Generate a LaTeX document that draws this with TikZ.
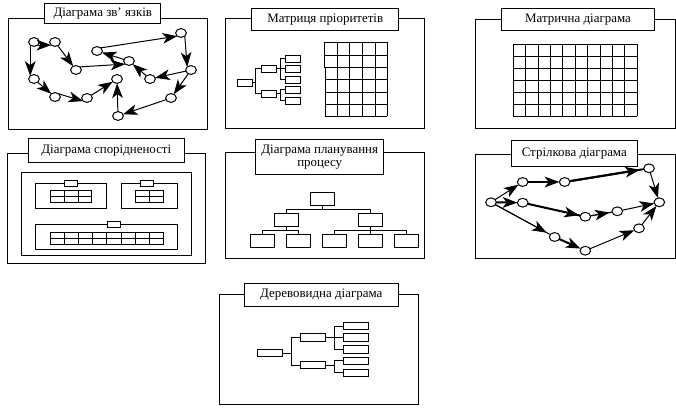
\documentclass[tikz,border=0pt]{standalone}
\usepackage{fontspec}
\setmainfont{Liberation Serif}
\usetikzlibrary{shapes.geometric,arrows.meta}

\begin{document}
\begin{tikzpicture}[
    x=0.75pt, y=-0.75pt,
    font=\fontsize{9.7}{10}\selectfont,
    line width=0.75pt,
    % Node styles:
    panel/.style={draw},
    title/.style={rectangle, draw, fill=white, align=center, inner sep=0pt, outer sep=0pt},
    circ/.style={ellipse, draw, fill=white, inner sep=0pt, outer sep=0pt,
                 minimum width=8pt, minimum height=6.6pt},
    tag/.style={rectangle, draw, fill=white, inner sep=0pt, outer sep=0pt,
                minimum width=10pt, minimum height=4.8pt},
    smallbox/.style={rectangle, draw, inner sep=0pt, outer sep=0pt,
                     minimum width=11.5pt, minimum height=5.5pt},
    widebox/.style={rectangle, draw, inner sep=0pt, outer sep=0pt,
                    minimum width=19pt, minimum height=5.6pt},
    planbox/.style={rectangle, draw, inner sep=0pt, outer sep=0pt,
                    minimum width=18pt, minimum height=10pt},
    % Arrow styles:
    line/.style={-{Stealth[length=11pt,width=8pt,inset=3pt]}},
    heavy/.style={line, line width=1.5pt},
]
\useasboundingbox (0,0) rectangle (676,410);

% --- PANELS ---
\draw[panel] (8,19) rectangle (207,130);
\draw[panel] (225.7,18.3) rectangle (424.3,128.3);
\draw[panel] (475.7,20) rectangle (675,128.3);
\draw[panel] (7.3,153.3) rectangle (205.7,264);
\draw[panel] (225.7,152.3) rectangle (424.3,258.3);
\draw[panel] (475.7,155) rectangle (675,258.3);
\draw[panel] (219.3,294.3) rectangle (418.7,404.3);

% --- TITLES ---
\node[title, minimum width=86.8pt, minimum height=14.3pt] (titleLinks) at (102.8,13.5) {Діаграма зв’ язків};
\node[title, minimum width=110.5pt, minimum height=16.8pt] (titlePriority) at (325.3,19.5) {Матриця пріоритетів};
\node[title, minimum width=114.5pt, minimum height=16.8pt] (titleMatrix) at (578,19.5) {Матрична діаграма};
\node[title, minimum width=117pt, minimum height=18pt] (titleAffinity) at (106.3,150.3) {Діаграма спорідненості};
\node[title, minimum width=96pt, minimum height=26.3pt] (titlePlan) at (319.7,156.8) {Діаграма планування\\процесу};
\node[title, minimum width=94.5pt, minimum height=19.7pt] (titleArrow) at (574.3,153.8) {Стрілкова діаграма};
\node[title, minimum width=115.5pt, minimum height=17.5pt] (titleTree) at (321.3,295) {Деревовидна діаграма};

% --- LINKS DIAGRAM ---
\node[circ] (la) at (34,42) {};
\node[circ] (lb) at (55,42) {};
\node[circ] (lc) at (76,70) {};
\node[circ] (ld) at (34,79) {};
\node[circ] (le) at (55,97) {};
\node[circ] (lf) at (87,98) {};
\node[circ] (lg) at (117,79) {};
\node[circ] (lh) at (118,116) {};
\node[circ] (li) at (97,51) {};
\node[circ] (lj) at (129,61) {};
\node[circ] (lk) at (150,79) {};
\node[circ] (ll) at (181,33) {};
\node[circ] (lm) at (191,70) {};
\node[circ] (ln) at (171,98) {};

\draw[line] (la.south east) -- (lb.south west);
\draw[line] (lb) -- (lc);
\draw[line] (la.south west) -- (ld.north west);
\draw[line] (ld) -- (le);
\draw[line] (le.north east) -- (lf.south west);
\draw[line] (lf) -- (lg);
\draw[line] (lh) -- (lg);
\draw[line] (lc.north east) -- (lj.south west);
\draw[line] (li.north east) -- (ll.south west);
\draw[line] (lj) -- (li);
\draw[line] (lk) -- (lj);
\draw[line] (ll.south east) -- (lm.north west);
\draw[line] (lm) -- (lk);
\draw[line] (lm) -- (ln);
\draw[line] (ln) -- (lh);

% --- PRIORITY MATRIX ---
\node[smallbox] (prRoot) at (245,83) {};
\node[smallbox] (prMidA) at (269,69) {};
\node[smallbox] (prMidB) at (269,94) {};
\node[smallbox] (prLeafA) at (293,59) {};
\node[smallbox] (prLeafB) at (293,69) {};
\node[smallbox] (prLeafC) at (293,80) {};
\node[smallbox] (prLeafD) at (293,90) {};
\node[smallbox] (prLeafE) at (293,101) {};

\draw (prRoot.east) -- ++(3.3,0) |- (prMidA.west);
\draw (prRoot.east) -- ++(3.3,0) |- (prMidB.west);
\draw (prMidA.east) -- ++(3.6,0) |- (prLeafA.west);
\draw (prMidA.east) -- (prLeafB.west);
\draw (prMidA.east) -- ++(3.6,0) |- (prLeafC.west);
\draw (prMidB.east) -- ++(3.6,0) |- (prLeafD.west);
\draw (prMidB.east) -- ++(3.6,0) |- (prLeafE.west);

% grid, its two top rows start one pixel further left
\foreach \y in {42.3,55.3,67.7} \draw (324.3,\y) -- (387.3,\y);
\foreach \y in {80,92.3,104.7,116.3} \draw (325.3,\y) -- (387.3,\y);
\foreach \x in {337.3,349.7,362.7,375,387.3} \draw (\x,42.3) -- (\x,116.3);
\draw (324.3,42.3) -- (324.3,67.7);
\draw (325.3,67.7) -- (325.3,116.3);

% --- MATRIX DIAGRAM ---
\foreach \i in {0,...,10} \draw (513.3+12.4*\i,44.3) -- (513.3+12.4*\i,116.3);
\foreach \i in {0,...,6} \draw (513.3,44.3+12*\i) -- (637.3,44.3+12*\i);

% --- AFFINITY DIAGRAM ---
\draw (21.7,172.3) rectangle (191.7,255.3);
\draw (35.3,183.3) rectangle (106.7,208.3);
\draw (121.3,183.3) rectangle (177.7,208.3);
\draw (35.3,224.3) rectangle (177.7,249.3);
\node[tag] (tagA) at (71,183.3) {};
\node[tag] (tagB) at (147,183.3) {};
\node[tag] (tagC) at (114,224.8) {};

\draw (50.3,190.3) rectangle (91.7,202.7);
\draw (50.3,196.5) -- (91.7,196.5);
\foreach \x in {64.3,78.3} \draw (\x,190.3) -- (\x,202.7);
\draw (135.3,190.3) rectangle (163.7,202.7);
\draw (135.3,196.5) -- (163.7,196.5);
\draw (149.3,190.3) -- (149.3,202.7);
\draw (50.3,232.3) rectangle (163.7,244.3);
\draw (50.3,238.3) -- (163.7,238.3);
\foreach \i in {1,...,7} \draw (50.3+14.17*\i,232.3) -- (50.3+14.17*\i,244.3);

% --- PLANNING DIAGRAM ---
\node[planbox] (planTop) at (322.3,199) {};
\node[planbox, below of=planTop, node distance=15.8pt, xshift=-27pt] (planA) {};
\node[planbox, below of=planTop, node distance=15.8pt, xshift=36pt] (planB) {};
\node[planbox, below of=planA, node distance=15.8pt, xshift=-18pt] (planAa) {};
\node[planbox, right of=planAa, node distance=27pt] (planAb) {};
\node[planbox, right of=planAb, node distance=27pt] (planBa) {};
\node[planbox, right of=planBa, node distance=27pt] (planBb) {};
\node[planbox, right of=planBb, node distance=27pt] (planBc) {};

\draw (planTop.south) -- ++(0,3.6) -| (planA.north);
\draw (planTop.south) -- ++(0,3.6) -| (planB.north);
\draw (planA.south) -- ++(0,4) -| (planAa.north);
\draw (planA.south) -- ++(0,4) -| (planAb.north);
\draw (planB.south) -- ++(0,4) -| (planBa.north);
\draw (planB.south) -- (planBb.north);
\draw (planB.south) -- ++(0,4) -| (planBc.north);

% --- ARROW DIAGRAM ---
\node[circ] (ar) at (491,202.3) {};
\node[circ] (aa) at (522.7,182) {};
\node[circ] (ab) at (564.7,182) {};
\node[circ] (ac) at (649,168.3) {};
\node[circ] (ad) at (659.3,202.3) {};
\node[circ] (ae) at (522.7,202.7) {};
\node[circ] (af) at (585.3,216.7) {};
\node[circ] (ag) at (617.3,211.3) {};
\node[circ] (ah) at (554.7,237) {};
\node[circ] (ai) at (585.3,250.7) {};
\node[circ] (aj) at (639,228.3) {};

\draw[line] (ar) -- (aa);
\draw[heavy] (ar) -- (ae);
\draw (ar) -- (ah);
\draw[line, shorten >=3pt] (ar) -- (ah);
\draw[heavy] (aa) -- (ab);
\draw[heavy, -] (ab) -- (ac);
\draw[heavy, shorten >=3pt] (ab) -- (ac);
\draw[line] (ac) -- (ad);
\draw[heavy, -] (ae) -- (af);
\draw[line, shorten >=1pt] (ae) -- (af);
\draw (af) -- (ag);
\draw[line, shorten >=2pt] (af) -- (ag);
\draw[line] (ag) -- (ad);
\draw[heavy] (ah) -- (ai);
\draw[line] (ai) -- (aj);
\draw[line] (aj) -- (ad);

% --- TREE DIAGRAM ---
\node[widebox] (treeRoot) at (270,353) {};
\node[widebox] (treeMidA) at (313,337.3) {};
\node[widebox] (treeMidB) at (313,365) {};
\node[widebox] (treeLeafA) at (356,326) {};
\node[widebox] (treeLeafB) at (356,337.3) {};
\node[widebox] (treeLeafC) at (356,349.3) {};
\node[widebox] (treeLeafD) at (356,360.8) {};
\node[widebox] (treeLeafE) at (356,372.8) {};

\draw (treeRoot.east) -- ++(8.6,0) |- (treeMidA.west);
\draw (treeRoot.east) -- ++(8.6,0) |- (treeMidB.west);
\draw (treeMidA.east) -- ++(8.6,0) |- (treeLeafA.west);
\draw (treeMidA.east) -- (treeLeafB.west);
\draw (treeMidA.east) -- ++(8.6,0) |- (treeLeafC.west);
\draw (treeMidB.east) -- ++(8.6,0) |- (treeLeafD.west);
\draw (treeMidB.east) -- ++(8.6,0) |- (treeLeafE.west);

\end{tikzpicture}
\end{document}
